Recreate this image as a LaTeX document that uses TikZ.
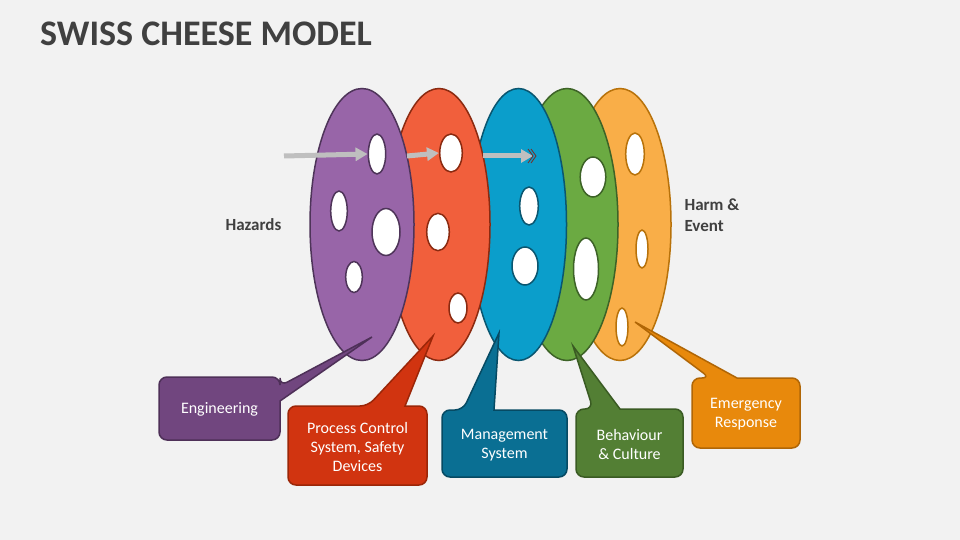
\documentclass[tikz,border=0pt]{standalone}
\usepackage{fontspec}
\setmainfont{Carlito}
\usetikzlibrary{shapes.geometric,arrows.meta}
\definecolor{bg}{HTML}{F2F2F2}
\definecolor{ttl}{HTML}{404040}
\definecolor{pF}{HTML}{9865A8}\definecolor{pD}{HTML}{4E3459}
\definecolor{rF}{HTML}{F15F3C}\definecolor{rD}{HTML}{8B2A10}
\definecolor{bF}{HTML}{0B9ECB}\definecolor{bD}{HTML}{0A5670}
\definecolor{gF}{HTML}{6BAA42}\definecolor{gD}{HTML}{3D6327}
\definecolor{yF}{HTML}{F9AE48}\definecolor{yD}{HTML}{B8720A}
\definecolor{pB}{HTML}{71467F}\definecolor{pBD}{HTML}{4E3058}
\definecolor{rB}{HTML}{D13410}\definecolor{rBD}{HTML}{9B2608}
\definecolor{bB}{HTML}{0A6F93}\definecolor{bBD}{HTML}{064A63}
\definecolor{gB}{HTML}{537F34}\definecolor{gBD}{HTML}{3A5B23}
\definecolor{oB}{HTML}{E8890C}\definecolor{oBD}{HTML}{B06606}
\definecolor{arr}{HTML}{BFBFBF}
\tikzset{
  slice/.style={ellipse, inner sep=0pt, line width=1.5pt, minimum height=272pt},
  hole/.style={ellipse, inner sep=0pt, fill=white, line width=1.5pt},
  bubble/.style={line width=1.5pt, rounded corners=8pt},
  btext/.style={text=white, font=\fontsize{16}{19}\selectfont, align=center},
  lbl/.style={text=ttl, font=\bfseries\fontsize{17}{21}\selectfont, align=left},
  flow/.style={draw=arr, line width=5pt, -{Triangle[length=12pt,width=13pt]}},
}
\begin{document}
\begin{tikzpicture}[x=1pt,y=-1pt]
\fill[bg] (0,0) rectangle (960,540);
\useasboundingbox (0,0) rectangle (960,540);
\node[anchor=base west, text=ttl, font=\bfseries\fontsize{36}{40}\selectfont, inner sep=0pt] (title) at (40,46) {SWISS CHEESE MODEL};

% yellow slice
\node[slice, fill=yF, draw=yD, minimum width=102pt] (sy) at (620,224.5) {};
\node[hole, draw=yD, minimum width=18.6pt, minimum height=42pt] (hy1) at (635,154) {};
\node[hole, draw=yD, minimum width=12pt, minimum height=38pt] (hy2) at (642,249) {};
\node[hole, draw=yD, minimum width=12pt, minimum height=38pt] (hy3) at (622,327) {};
% green slice
\node[slice, fill=gF, draw=gD, minimum width=102pt] (sg) at (567,224.5) {};
\node[hole, draw=gD, minimum width=25.6pt, minimum height=40pt] (hg1) at (593,177) {};
\node[hole, draw=gD, minimum width=25pt, minimum height=62pt] (hg2) at (586,269) {};
% blue slice
\node[slice, fill=bF, draw=bD, minimum width=96pt] (sb) at (518.5,224.5) {};
\node[hole, draw=bD, minimum width=18.6pt, minimum height=38pt] (hb1) at (529,206) {};
\node[hole, draw=bD, minimum width=26pt, minimum height=38pt] (hb2) at (525,266) {};
% red slice
\node[slice, fill=rF, draw=rD, minimum width=102pt] (sr) at (439,224.5) {};
\node[hole, draw=rD, minimum width=22.6pt, minimum height=38pt] (hr1) at (451,153) {};
\node[hole, draw=rD, minimum width=22.6pt, minimum height=37.4pt] (hr2) at (438,232) {};
\node[hole, draw=rD, minimum width=18pt, minimum height=30pt] (hr3) at (458,308) {};
% purple slice
\node[slice, fill=pF, draw=pD, minimum width=104pt] (sp) at (362,224.5) {};
\node[hole, draw=pD, minimum width=17.4pt, minimum height=40pt] (hp1) at (377,154) {};
\node[hole, draw=pD, minimum width=16.6pt, minimum height=40pt] (hp2) at (339,211) {};
\node[hole, draw=pD, minimum width=28pt, minimum height=47pt] (hp3) at (386,232) {};
\node[hole, draw=pD, minimum width=16.6pt, minimum height=31pt] (hp4) at (354,277) {};

% flow arrows
\coordinate (a0) at (284,156);
\coordinate (a1) at (407,156);
\coordinate (a2) at (483,156);
\coordinate (a3) at (533,156);
\draw[flow] (a0) -- (hp1.west);
\draw[flow] (a1) -- (hr1.west);
\draw[flow] (a2) -- (a3);
\draw[draw=rD!70!pD, line width=0.8pt] (528,149) -- (533,156) -- (528,163) (531,149) -- (536,156) -- (531,163);

% labels
\node[lbl, anchor=west] (haz) at (222,225) {Hazards};
\node[lbl, anchor=west] (harm) at (681,215) {Harm \&\\Event};

% callouts
\coordinate (tp) at (372,337);
\draw[bubble, fill=pB, draw=pBD] (159,377) -- (280,377) -- (280,386) [sharp corners] -- (tp) -- (280,401) [rounded corners=8pt] -- (280,440) -- (159,440) -- cycle;
\node[btext] (eng) at (219.5,409) {Engineering};

\coordinate (tr) at (433,336);
\draw[bubble, fill=rB, draw=rBD] (288,406) -- (368,406) [sharp corners] -- (tr) -- (405,406) [rounded corners=8pt] -- (427,406) -- (427,485) -- (288,485) -- cycle;
\node[btext] (pcs) at (357.5,447) {Process Control\\System, Safety\\Devices};

\coordinate (tb) at (499,333);
\draw[bubble, fill=bB, draw=bBD] (442,410) -- (463,410) [sharp corners] -- (tb) -- (494,410) [rounded corners=8pt] -- (567,410) -- (567,477) -- (442,477) -- cycle;
\node[btext] (mgs) at (504.5,445) {Management\\System};

\coordinate (tg) at (573,346);
\draw[bubble, fill=gB, draw=gBD] (576,409) -- (593,409) [sharp corners] -- (tg) -- (620,409) [rounded corners=8pt] -- (683,409) -- (683,477) -- (576,477) -- cycle;
\node[btext] (bac) at (629.5,444) {Behaviour\\\& Culture};

\coordinate (to) at (635,322);
\draw[bubble, fill=oB, draw=oBD] (692,378) -- (710,378) [sharp corners] -- (to) -- (737,378) [rounded corners=8pt] -- (800,378) -- (800,448) -- (692,448) -- cycle;
\node[btext] (emr) at (746,414) {Emergency\\Response};
\end{tikzpicture}
\end{document}
